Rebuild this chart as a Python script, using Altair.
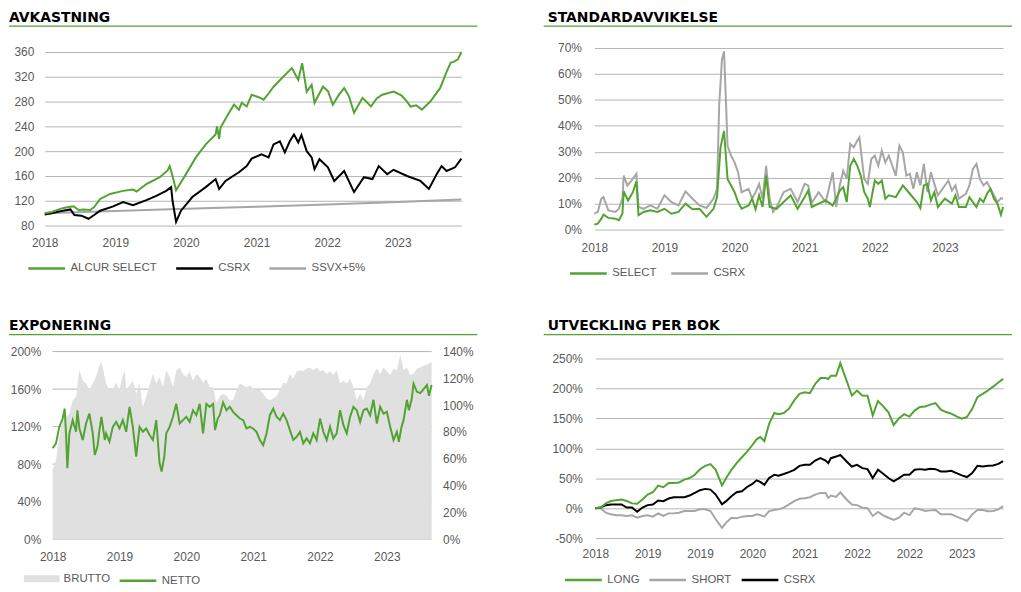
import altair as alt
import pandas as pd

GREEN = "#52A332"
BLACK = "#000000"
GRAY = "#A6A6A6"
FILL = "#E0E0E0"
GRID = "#B4B4B4"
LBL = "#595959"
FONT = "Liberation Sans"
TFONT = "DejaVu Sans"

# ---------------- AVKASTNING ----------------
ret_sel_t = [2018.00, 2018.10, 2018.22, 2018.30, 2018.41, 2018.48, 2018.55, 2018.645, 2018.70, 2018.785,
             2018.925, 2019.11, 2019.25, 2019.30, 2019.44, 2019.63, 2019.74, 2019.77, 2019.81, 2019.86,
             2019.93, 2020.00, 2020.14, 2020.28, 2020.42, 2020.44, 2020.47, 2020.49, 2020.61, 2020.68,
             2020.75, 2020.79, 2020.86, 2020.93, 2021.03, 2021.10, 2021.17, 2021.24, 2021.36, 2021.50,
             2021.59, 2021.645, 2021.71, 2021.78, 2021.82, 2021.94, 2022.01, 2022.08, 2022.16, 2022.24,
             2022.31, 2022.38, 2022.50, 2022.62, 2022.70, 2022.78, 2022.94, 2023.05, 2023.13, 2023.18,
             2023.26, 2023.34, 2023.46, 2023.60, 2023.69, 2023.75, 2023.79, 2023.85, 2023.90]
ret_sel_v = [100, 102, 107, 109, 111, 105, 106, 105, 110, 123,
             131, 136, 138, 135, 147, 158, 169, 176, 160, 137,
             150, 163, 190, 211, 227, 240, 220, 238, 262, 275,
             267, 278, 272, 291, 287, 283, 293, 304, 318, 334,
             315, 342, 296, 307, 278, 304, 297, 275, 290, 302,
             288, 262, 286, 272, 285, 291, 296, 290, 280, 272,
             274, 267, 280, 302, 328, 343, 344, 348, 360]
ret_csrx_t = [2018.00, 2018.10, 2018.22, 2018.365, 2018.42, 2018.52, 2018.62, 2018.70, 2018.785, 2018.97,
              2019.11, 2019.25, 2019.44, 2019.58, 2019.72, 2019.79, 2019.81, 2019.86, 2019.93, 2020.09,
              2020.28, 2020.42, 2020.47, 2020.56, 2020.75, 2020.86, 2020.93, 2021.07, 2021.17, 2021.24,
              2021.33, 2021.40, 2021.47, 2021.53, 2021.59, 2021.635, 2021.71, 2021.78, 2021.82, 2021.89,
              2022.01, 2022.10, 2022.24, 2022.38, 2022.52, 2022.64, 2022.73, 2022.85, 2022.94, 2023.13,
              2023.32, 2023.44, 2023.55, 2023.62, 2023.69, 2023.81, 2023.90]
ret_csrx_v = [98, 100, 103, 106, 97, 96, 91, 97, 104, 111,
              118, 113, 121, 128, 136, 142, 120, 86, 104, 126,
              142, 155, 139, 152, 166, 176, 188, 195, 190, 211,
              216, 198, 216, 227, 214, 226, 200, 190, 171, 187,
              174, 152, 168, 134, 158, 155, 176, 163, 170, 160,
              152, 139, 163, 176, 168, 174, 188]
ret_ssvx_t = [2018.0, 2019.0, 2020.0, 2021.0, 2022.0, 2023.0, 2023.9]
ret_ssvx_v = [100, 103.5, 107, 110.5, 114, 118, 122]
ret_series = ["ALCUR SELECT", "CSRX", "SSVX+5%"]
ret_ticks = [80, 120, 160, 200, 240, 280, 320, 360]
years = [2018, 2019, 2020, 2021, 2022, 2023]

# ---------------- STANDARDAVVIKELSE ----------------
sd_sel_t = [2018.00, 2018.05, 2018.10, 2018.13, 2018.20, 2018.30, 2018.35, 2018.40, 2018.42, 2018.48,
            2018.55, 2018.60, 2018.63, 2018.70, 2018.80, 2018.90, 2019.00, 2019.10, 2019.20, 2019.30,
            2019.40, 2019.50, 2019.60, 2019.70, 2019.75, 2019.80, 2019.85, 2019.90, 2019.95, 2020.00,
            2020.05, 2020.10, 2020.20, 2020.25, 2020.30, 2020.35, 2020.40, 2020.45, 2020.50, 2020.60,
            2020.70, 2020.80, 2020.90, 2021.00, 2021.05, 2021.10, 2021.20, 2021.30, 2021.40, 2021.45,
            2021.50, 2021.55, 2021.60, 2021.65, 2021.70, 2021.75, 2021.80, 2021.85, 2021.90, 2021.93,
            2022.00, 2022.05, 2022.10, 2022.15, 2022.20, 2022.30, 2022.40, 2022.50, 2022.60, 2022.65,
            2022.70, 2022.75, 2022.80, 2022.85, 2022.90, 2023.00, 2023.10, 2023.15, 2023.20, 2023.30,
            2023.35, 2023.40, 2023.45, 2023.50, 2023.55, 2023.60, 2023.65, 2023.70, 2023.75, 2023.80,
            2023.83]
sd_sel_v = [1.9, 2.3, 4.2, 5.7, 4.5, 4.2, 3.6, 6.1, 14.7, 11.2,
            14.4, 18.6, 5.5, 6.8, 7.4, 6.8, 8.0, 6.1, 6.8, 10.0,
            7.8, 8.0, 4.9, 8.0, 12.5, 31.7, 38.0, 19.5, 17.0, 14.4,
            10.6, 8.0, 9.3, 11.9, 7.8, 13.2, 8.7, 20.8, 8.7, 8.0,
            10.6, 13.2, 8.0, 12.5, 15.0, 8.7, 10.0, 11.2, 9.3, 11.9,
            15.0, 16.3, 10.6, 24.6, 27.2, 24.6, 20.8, 14.4, 11.9, 8.7,
            18.9, 17.6, 18.9, 11.9, 13.2, 12.5, 17.0, 13.8, 10.6, 8.3,
            17.0, 17.6, 11.2, 14.4, 8.7, 11.9, 10.0, 13.2, 8.7, 8.7,
            12.5, 10.6, 8.7, 11.9, 10.6, 13.8, 15.7, 11.9, 10.0, 5.7,
            8.7]
sd_csrx_t = [2018.00, 2018.05, 2018.10, 2018.13, 2018.20, 2018.30, 2018.35, 2018.40, 2018.42, 2018.47,
             2018.53, 2018.60, 2018.63, 2018.70, 2018.80, 2018.90, 2019.00, 2019.10, 2019.20, 2019.30,
             2019.40, 2019.50, 2019.60, 2019.70, 2019.75, 2019.78, 2019.82, 2019.85, 2019.88, 2019.90,
             2019.95, 2020.00, 2020.05, 2020.10, 2020.20, 2020.25, 2020.30, 2020.35, 2020.40, 2020.45,
             2020.50, 2020.55, 2020.60, 2020.70, 2020.80, 2020.90, 2021.00, 2021.05, 2021.10, 2021.20,
             2021.30, 2021.35, 2021.40, 2021.45, 2021.50, 2021.55, 2021.60, 2021.65, 2021.70, 2021.75,
             2021.78, 2021.80, 2021.85, 2021.90, 2021.95, 2022.00, 2022.05, 2022.10, 2022.15, 2022.20,
             2022.25, 2022.30, 2022.35, 2022.40, 2022.45, 2022.50, 2022.55, 2022.60, 2022.65, 2022.70,
             2022.75, 2022.80, 2022.85, 2022.90, 2023.00, 2023.05, 2023.10, 2023.15, 2023.20, 2023.30,
             2023.35, 2023.40, 2023.45, 2023.50, 2023.55, 2023.60, 2023.65, 2023.70, 2023.75, 2023.80,
             2023.83]
sd_csrx_v = [6.1, 6.8, 11.9, 12.5, 7.4, 6.8, 8.0, 11.9, 20.8, 17.0,
             18.9, 21.5, 8.7, 8.0, 9.3, 8.0, 13.2, 10.6, 9.3, 14.7,
             11.9, 9.3, 8.3, 11.9, 15.7, 47.6, 65.5, 68.7, 47.6, 32.3,
             28.5, 25.9, 22.1, 14.4, 15.7, 11.9, 14.4, 17.6, 11.9, 24.6,
             11.9, 6.8, 8.7, 14.4, 15.7, 10.6, 17.6, 17.0, 10.3, 14.4,
             10.6, 16.3, 22.1, 8.7, 17.0, 22.7, 19.5, 33.0, 31.7, 34.2,
             35.5, 31.0, 19.5, 17.6, 27.2, 28.5, 24.6, 30.4, 25.9, 28.5,
             24.6, 20.8, 32.3, 29.8, 20.8, 21.5, 15.7, 22.1, 17.0, 25.3,
             14.4, 22.1, 17.6, 13.2, 17.0, 18.9, 15.0, 17.0, 11.9, 13.8,
             17.0, 23.4, 25.3, 19.5, 17.0, 18.3, 15.7, 13.2, 10.6, 12.1,
             11.9]
sd_series = ["SELECT", "CSRX"]
sd_ticks = [0, 10, 20, 30, 40, 50, 60, 70]

# ---------------- EXPONERING ----------------
br_t = [2018.00, 2018.05, 2018.10, 2018.15, 2018.20, 2018.25, 2018.30, 2018.35, 2018.40, 2018.45,
        2018.50, 2018.55, 2018.60, 2018.65, 2018.70, 2018.73, 2018.80, 2018.85, 2018.90, 2018.95,
        2019.00, 2019.05, 2019.08, 2019.10, 2019.20, 2019.25, 2019.30, 2019.35, 2019.40, 2019.50,
        2019.55, 2019.60, 2019.65, 2019.70, 2019.75, 2019.80, 2019.85, 2019.90, 2019.95, 2020.00,
        2020.05, 2020.10, 2020.15, 2020.20, 2020.25, 2020.30, 2020.35, 2020.40, 2020.45, 2020.50,
        2020.55, 2020.60, 2020.65, 2020.70, 2020.75, 2020.80, 2020.85, 2020.90, 2020.95, 2021.00,
        2021.05, 2021.10, 2021.15, 2021.20, 2021.25, 2021.30, 2021.35, 2021.40, 2021.45, 2021.50,
        2021.55, 2021.60, 2021.65, 2021.70, 2021.75, 2021.80, 2021.85, 2021.90, 2021.95, 2022.00,
        2022.05, 2022.10, 2022.15, 2022.20, 2022.25, 2022.30, 2022.35, 2022.40, 2022.45, 2022.50,
        2022.55, 2022.60, 2022.65, 2022.70, 2022.75, 2022.80, 2022.85, 2022.90, 2022.95, 2023.00,
        2023.05, 2023.10, 2023.15, 2023.20, 2023.25, 2023.30, 2023.35, 2023.40, 2023.45, 2023.50,
        2023.55, 2023.60, 2023.67]
br_v = [74, 84.5, 109, 127, 130, 134, 148, 152, 180, 169,
        166, 159, 166, 173, 185, 189, 166, 159, 160, 167,
        159, 175, 180, 159, 169, 155, 166, 141, 152, 176,
        166, 173, 162, 180, 173, 162, 180, 183, 176, 173,
        179, 169, 176, 173, 167, 171, 162, 162, 145, 152,
        155, 153, 148, 148, 159, 166, 164, 162, 164, 160,
        159, 159, 155, 150, 148, 150, 153, 159, 167, 166,
        176, 171, 179, 180, 179, 182, 183, 180, 183, 179,
        180, 176, 179, 175, 180, 166, 169, 166, 171, 162,
        148, 155, 148, 162, 166, 176, 182, 176, 183, 179,
        175, 182, 180, 197, 180, 183, 175, 176, 182, 183,
        185, 186, 189]
ne_t = [2018.00, 2018.05, 2018.08, 2018.10, 2018.15, 2018.18, 2018.20, 2018.22, 2018.25, 2018.30,
        2018.35, 2018.37, 2018.40, 2018.45, 2018.50, 2018.55, 2018.60, 2018.63, 2018.67, 2018.70,
        2018.73, 2018.78, 2018.80, 2018.85, 2018.90, 2018.95, 2019.00, 2019.05, 2019.10, 2019.15,
        2019.20, 2019.25, 2019.30, 2019.35, 2019.40, 2019.45, 2019.50, 2019.55, 2019.60, 2019.63,
        2019.67, 2019.70, 2019.75, 2019.80, 2019.85, 2019.90, 2019.95, 2020.00, 2020.05, 2020.10,
        2020.15, 2020.20, 2020.25, 2020.30, 2020.35, 2020.40, 2020.43, 2020.47, 2020.50, 2020.55,
        2020.60, 2020.65, 2020.70, 2020.75, 2020.80, 2020.85, 2020.90, 2020.95, 2021.00, 2021.05,
        2021.10, 2021.15, 2021.20, 2021.25, 2021.30, 2021.35, 2021.40, 2021.45, 2021.50, 2021.55,
        2021.60, 2021.65, 2021.70, 2021.75, 2021.80, 2021.85, 2021.90, 2021.95, 2022.00, 2022.05,
        2022.10, 2022.15, 2022.20, 2022.25, 2022.30, 2022.35, 2022.40, 2022.45, 2022.50, 2022.55,
        2022.60, 2022.65, 2022.70, 2022.75, 2022.80, 2022.85, 2022.90, 2022.95, 2023.00, 2023.05,
        2023.10, 2023.15, 2023.18, 2023.22, 2023.25, 2023.30, 2023.33, 2023.37, 2023.40, 2023.45,
        2023.50, 2023.55, 2023.60, 2023.63, 2023.67]
ne_v = [67.8, 71.5, 78.9, 83.8, 90.0, 97.4, 78.9, 52.9, 78.9, 88.8,
        80.1, 96.2, 82.6, 74.0, 86.3, 93.7, 78.9, 62.8, 69.0, 81.4,
        91.3, 74.0, 78.9, 72.7, 83.8, 87.5, 82.6, 88.8, 80.1, 98.7,
        83.8, 61.6, 83.8, 80.1, 82.6, 77.7, 74.0, 88.8, 56.6, 50.4,
        61.6, 78.9, 83.8, 91.3, 101.0, 86.3, 88.8, 91.3, 87.5, 96.2,
        92.5, 101.0, 78.9, 101.0, 98.7, 101.0, 81.4, 90.0, 92.5, 102.0,
        96.2, 98.7, 95.0, 92.5, 90.0, 88.8, 82.6, 83.8, 82.6, 80.1,
        74.0, 70.2, 78.9, 92.5, 97.4, 91.3, 88.8, 93.7, 88.8, 81.4,
        74.0, 76.4, 80.1, 71.5, 75.2, 71.5, 78.9, 74.0, 90.0, 80.1,
        74.0, 83.8, 75.2, 78.9, 96.2, 85.1, 78.9, 91.3, 98.7, 96.2,
        87.5, 96.2, 97.4, 92.5, 104.0, 86.3, 98.7, 93.7, 95.0, 83.8,
        74.0, 80.1, 72.7, 83.8, 88.8, 104.0, 96.2, 104.0, 116.0, 110.0,
        109.0, 112.0, 115.0, 107.0, 115.0]
exp_left_ticks = [0, 40, 80, 120, 160, 200]
exp_right_ticks = [0, 20, 40, 60, 80, 100, 120, 140]

# ---------------- UTVECKLING PER BOK ----------------
bok_t = [0, 0.1, 0.2, 0.3, 0.4, 0.5, 0.6, 0.7, 0.8, 0.9,
         1.0, 1.1, 1.2, 1.3, 1.4, 1.5, 1.6, 1.7, 1.8, 1.9,
         2.0, 2.1, 2.2, 2.3, 2.42, 2.5, 2.6, 2.7, 2.8, 2.9,
         3.0, 3.08, 3.15, 3.23, 3.32, 3.42, 3.5, 3.6, 3.7, 3.8,
         3.9, 4.0, 4.1, 4.2, 4.3, 4.4, 4.45, 4.5, 4.6, 4.68,
         4.8, 4.9, 5.0, 5.1,
         5.2, 5.3, 5.4, 5.5, 5.6, 5.7, 5.8, 5.9, 6.0, 6.1,
         6.2, 6.3, 6.4, 6.5, 6.6, 6.7, 6.8, 6.9, 7.0, 7.1,
         7.2, 7.3, 7.4, 7.5, 7.6, 7.7, 7.79]
bok_long = [0, 1, 8, 12, 13.4, 14.5, 12, 8, 7.3, 14.5,
            22.7, 26.6, 37.6, 35, 42, 42, 43, 47.6, 50.3, 55.8,
            65, 70.7, 73.5, 64.1, 38, 50.3, 64.1, 75.2, 85.1, 94.4,
            105.5, 115, 119, 112, 141, 159, 156.8, 159, 166.2, 180,
            191, 193.7, 192, 207.5, 217.5, 217.5, 215.8, 221.3, 221.3, 242.3,
            213, 188.2, 196.5, 188.2,
            188, 155, 179, 170, 160, 139, 150, 157, 153, 163,
            169, 170, 173, 175.5, 164.5, 160.6, 158, 153.5, 149.6, 152.4,
            166, 185.5, 191, 196.5, 203, 210, 216]
bok_short = [0, 0, -7.6, -10.3, -12, -12, -13, -12, -15.9, -13,
             -12, -14.2, -8.7, -13, -8.7, -8.7, -7.6, -4.8, -4.8, -4.8,
             -2, -2, -4.8, -18.5, -33, -24.1, -15.9, -17, -14.2, -13,
             -13, -10.3, -11.5, -14.2, -4.8, -3.1, -2, 0.8, 6.3, 11.8,
             15.6, 16.7, 18.3, 22.7, 25.5, 25.5, 17.2, 21.1, 18.9, 26.6,
             14.5, 6.2, 5.1, 0.8,
             0, -13, -6.4, -12, -16, -19.7, -15.9, -7.6, -11.5, 0,
             -2, -4.8, -3.7, -3.1, -10.3, -10.3, -10.3, -14.2, -17.5, -21.4,
             -10.3, -3.1, -3.1, -5.3, -4.8, -2, 3.5]
bok_csrx = [0, 1, 5, 6.2, 6.2, 6.2, 1.1, 1.1, -6.1, 1.1,
            5.1, 6.2, 12.8, 11.7, 16.1, 18.3, 18.3, 18.3, 21.1, 25.5,
            30, 32.2, 31, 22.8, 6.5, 11.7, 20, 26.6, 28.3, 35.4,
            40.4, 46.5, 44, 39, 50.3, 55.8, 54.2, 57, 60.3, 64.1,
            70.7, 72.4, 72.4, 79.6, 83.5, 79.6, 75.2, 83.5, 86.2, 89,
            78, 69.6, 72.4, 66.9,
            65.2, 50.3, 64.1, 57.5, 50.3, 44.8, 50.3, 55.8, 55.8, 64.1,
            65.2, 64.1, 65.8, 65.2, 61.4, 61.4, 62.5, 58.6, 54.7, 52,
            58.6, 70.7, 69.6, 70.7, 71.3, 74, 78.5]
bok_series = ["LONG", "SHORT", "CSRX"]
bok_tick_labels = ["2018", "2019", "2019", "2020", "2021", "2022", "2022", "2023"]
bok_ticks = [-50, 0, 50, 100, 150, 200, 250]


def frame(series):
    rows = []
    for name, ts, vs in series:
        for t, v in zip(ts, vs):
            rows.append({"s": name, "t": t, "v": v})
    return pd.DataFrame(rows)


def header(text, tx, ty, rx0, rx1, ry):
    d = pd.DataFrame({"k": [0]})
    t = alt.Chart(d).mark_text(text=text, font=TFONT, fontSize=14, fontWeight="bold",
                               color="#000000", align="left", baseline="alphabetic").encode(
        x=alt.value(tx), y=alt.value(ty))
    r = alt.Chart(d).mark_rule(color=GREEN, strokeWidth=1.3).encode(
        x=alt.value(rx0), x2=alt.value(rx1), y=alt.value(ry))
    return [t, r]


def xaxis(vals, pad, **kw):
    return alt.Axis(values=vals, grid=False, domain=False, ticks=False, labelPadding=pad,
                    labelFlush=False, labelOverlap=False, title=None, **kw)


def yaxis(vals, pad, orient="left", grid=True, **kw):
    return alt.Axis(values=vals, grid=grid, domain=False, ticks=False, labelPadding=pad,
                    orient=orient, title=None, labelOverlap=False, **kw)


def line_legend(lx, ly, colpad):
    return alt.Legend(orient="none", legendX=lx, legendY=ly, direction="horizontal", title=None,
                      symbolType="stroke", symbolSize=1369, symbolStrokeWidth=2.5,
                      columnPadding=colpad, labelOffset=4)


# Panel 1 (origin 44,48; plot area starts 4px lower)
df1 = frame([("SSVX+5%", ret_ssvx_t, ret_ssvx_v), ("CSRX", ret_csrx_t, ret_csrx_v),
             ("ALCUR SELECT", ret_sel_t, ret_sel_v)])
l1 = alt.Chart(df1).mark_line(strokeWidth=2).encode(
    x=alt.X("t:Q", scale=alt.Scale(domain=[2018, 2023.9], nice=False, zero=False),
            axis=xaxis(years, 12, format="d")),
    y=alt.Y("v:Q", scale=alt.Scale(domain=[80, 360], nice=False, zero=False, range=[179, 4]),
            axis=yaxis(ret_ticks, 11)),
    color=alt.Color("s:N", scale=alt.Scale(domain=ret_series, range=[GREEN, BLACK, GRAY]),
                    legend=line_legend(-18, 202, 14)),
    detail="s:N",
)
p1 = alt.layer(l1, *header("AVKASTNING", -36, -26, -36, 436, -22)).properties(width=420, height=179)

# Panel 2 (origin 596,48)
df2 = frame([("CSRX", sd_csrx_t, sd_csrx_v), ("SELECT", sd_sel_t, sd_sel_v)])
l2 = alt.Chart(df2).mark_line(strokeWidth=2).encode(
    x=alt.X("t:Q", scale=alt.Scale(domain=[2018, 2023.83], nice=False, zero=False),
            axis=xaxis(years, 13, format="d")),
    y=alt.Y("v:Q", scale=alt.Scale(domain=[0, 70], nice=False),
            axis=yaxis(sd_ticks, 13, labelExpr="datum.value + '%'")),
    color=alt.Color("s:N", scale=alt.Scale(domain=sd_series, range=[GREEN, GRAY]),
                    legend=line_legend(-26, 207, 9)),
    detail="s:N",
)
p2 = alt.layer(l2, *header("STANDARDAVVIKELSE", -47, -26, -51, 421, -22)).properties(width=412, height=183)

# Panel 3 (origin 44,351; plot area starts 8px to the right)
df3b = frame([("BRUTTO", br_t, br_v)])
df3n = frame([("NETTO", ne_t, ne_v)])
df3g = pd.DataFrame({"g": exp_left_ticks})
xs3 = alt.X("t:Q", scale=alt.Scale(domain=[2018, 2023.67], nice=False, zero=False, range=[8, 390]),
            axis=xaxis(years, 13, format="d"))
g3 = alt.Chart(df3g).mark_rule(color=GRID, strokeWidth=1).encode(
    y=alt.Y("g:Q", scale=alt.Scale(domain=[0, 200], nice=False), axis=None),
    x=alt.value(8), x2=alt.value(390),
)
a3 = alt.Chart(df3b).mark_area(opacity=1).encode(
    x=xs3,
    y=alt.Y("v:Q", scale=alt.Scale(domain=[0, 200], nice=False),
            axis=yaxis(exp_left_ticks, 4, grid=False, labelExpr="datum.value + '%'")),
    fill=alt.Fill("s:N", scale=alt.Scale(domain=["BRUTTO"], range=[FILL]),
                  legend=alt.Legend(orient="none", legendX=-21, legendY=211, title=None,
                                    symbolType="M-1,-0.2H1V0.2H-1Z", symbolSize=1296,
                                    symbolStrokeWidth=0, labelOffset=4)),
)
n3 = alt.Chart(df3n).mark_line(strokeWidth=2).encode(
    x=xs3,
    y=alt.Y("v:Q", scale=alt.Scale(domain=[0, 140], nice=False),
            axis=yaxis(exp_right_ticks, 11, orient="right", grid=False,
                       labelExpr="datum.value + '%'")),
    stroke=alt.Stroke("s:N", scale=alt.Scale(domain=["NETTO"], range=[GREEN]),
                      legend=line_legend(74, 211, 10)),
)
p3 = alt.layer(g3, a3, n3, *header("EXPONERING", -36, -22, -36, 436, -17)).resolve_scale(
    y="independent").properties(width=390, height=189)

# Panel 4 (origin 597,351; plot area starts 7px lower)
df4 = frame([("SHORT", bok_t, bok_short), ("CSRX", bok_t, bok_csrx), ("LONG", bok_t, bok_long)])
label_arr = "[" + ",".join("'%s'" % s for s in bok_tick_labels) + "]"
l4 = alt.Chart(df4).mark_line(strokeWidth=2).encode(
    x=alt.X("t:Q", scale=alt.Scale(domain=[0, 7.79], nice=False, zero=False),
            axis=xaxis(list(range(len(bok_tick_labels))), 11, labelExpr=label_arr + "[datum.value]")),
    y=alt.Y("v:Q", scale=alt.Scale(domain=[-50, 250], nice=False, range=[188, 7]),
            axis=yaxis(bok_ticks, 13, labelExpr="datum.value + '%'")),
    color=alt.Color("s:N", scale=alt.Scale(domain=bok_series, range=[GREEN, GRAY, BLACK]),
                    legend=line_legend(-32, 210, 4)),
    detail="s:N",
)
p4 = alt.layer(l4, *header("UTVECKLING PER BOK", -48, -22, -52, 420, -17)).properties(width=411, height=188)

row1 = alt.hconcat(p1, p2, spacing=65).resolve_scale(color="independent")
row2 = alt.hconcat(p3, p4, spacing=65).resolve_scale(color="independent", fill="independent",
                                                     stroke="independent")
chart = alt.vconcat(row1, row2, spacing=40).resolve_scale(
    color="independent", fill="independent", stroke="independent"
).properties(
    padding={"left": 0, "top": 1, "right": 0, "bottom": 0}
).configure_view(strokeWidth=0).configure_axis(
    labelFont=FONT, labelFontSize=12, labelColor=LBL, gridColor=GRID, gridWidth=1
).configure_legend(
    labelFont=FONT, labelFontSize=11.5, labelColor=LBL, padding=0
)

chart.save("out.html", embed_options={"renderer": "svg", "actions": False})
